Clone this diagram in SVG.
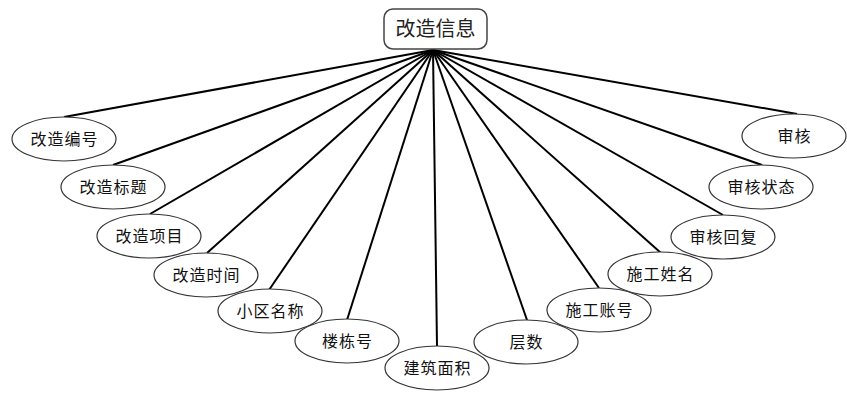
<svg xmlns="http://www.w3.org/2000/svg" width="847" height="406" viewBox="0 0 847 406">
<style>
.bg{fill:#ffffff}
.conn line{stroke:#000;stroke-width:2;fill:none}
.node ellipse{fill:#fff;stroke:#333;stroke-width:1.2}
.node text{font-family:"Noto Sans CJK SC","Microsoft YaHei",sans-serif;font-size:16px;letter-spacing:1px;fill:#111;text-anchor:middle}
.root rect{fill:#fff;stroke:#444;stroke-width:1.5}
.root text{font-family:"Noto Sans CJK SC",sans-serif;font-size:20px;fill:#222;text-anchor:middle}
</style>
<rect class="bg" x="0" y="0" width="847" height="406"/>
<g id="connectors" class="conn">
<line x1="433" y1="50" x2="64" y2="117"/>
<line x1="433" y1="50" x2="113" y2="165"/>
<line x1="433" y1="50" x2="150" y2="214"/>
<line x1="433" y1="50" x2="207" y2="253"/>
<line x1="433" y1="50" x2="269" y2="290"/>
<line x1="433" y1="50" x2="347" y2="320"/>
<line x1="433" y1="50" x2="437" y2="346"/>
<line x1="433" y1="50" x2="527" y2="320"/>
<line x1="433" y1="50" x2="599" y2="288"/>
<line x1="433" y1="50" x2="661" y2="253"/>
<line x1="433" y1="50" x2="723" y2="215"/>
<line x1="433" y1="50" x2="762" y2="165"/>
<line x1="433" y1="50" x2="797" y2="114"/>
</g>
<g id="root" class="root">
<rect x="384" y="9" width="103" height="40" rx="9"/>
<text x="435.5" y="36">改造信息</text>
</g>
<g id="n1" class="node"><ellipse cx="64" cy="139" rx="52" ry="22"/><text x="64.5" y="145">改造编号</text></g>
<g id="n2" class="node"><ellipse cx="113" cy="187" rx="52" ry="22"/><text x="113.5" y="193">改造标题</text></g>
<g id="n3" class="node"><ellipse cx="149" cy="236" rx="52" ry="22"/><text x="149.5" y="242">改造项目</text></g>
<g id="n4" class="node"><ellipse cx="206" cy="275" rx="52" ry="22"/><text x="206.5" y="281">改造时间</text></g>
<g id="n5" class="node"><ellipse cx="270" cy="311" rx="52" ry="22"/><text x="270.5" y="317">小区名称</text></g>
<g id="n6" class="node"><ellipse cx="347" cy="341" rx="52" ry="22"/><text x="347.5" y="347">楼栋号</text></g>
<g id="n7" class="node"><ellipse cx="437" cy="368" rx="52" ry="22"/><text x="437.5" y="374">建筑面积</text></g>
<g id="n8" class="node"><ellipse cx="526" cy="342" rx="52" ry="22"/><text x="526.5" y="348">层数</text></g>
<g id="n9" class="node"><ellipse cx="599" cy="310" rx="52" ry="22"/><text x="599.5" y="316">施工账号</text></g>
<g id="n10" class="node"><ellipse cx="660" cy="274" rx="52" ry="22"/><text x="660.5" y="280">施工姓名</text></g>
<g id="n11" class="node"><ellipse cx="723" cy="237" rx="52" ry="22"/><text x="723.5" y="243">审核回复</text></g>
<g id="n12" class="node"><ellipse cx="761" cy="187" rx="52" ry="22"/><text x="761.5" y="193">审核状态</text></g>
<g id="n13" class="node"><ellipse cx="794" cy="136" rx="52" ry="22"/><text x="794.5" y="142">审核</text></g>
</svg>
